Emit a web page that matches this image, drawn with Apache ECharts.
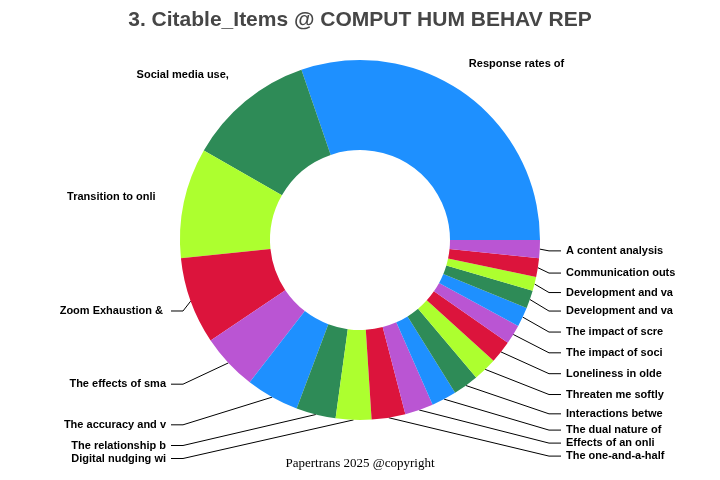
<!DOCTYPE html>
<html>
<head>
<meta charset="utf-8">
<script src="https://cdn.jsdelivr.net/npm/echarts@6/dist/echarts.min.js"></script>
<style>
  html, body { margin: 0; padding: 0; background: #fff; }
  #main { width: 720px; height: 480px; }
</style>
</head>
<body>
<div id="main"></div>
<script>
const titles = [
    'Response rates of ', 'Social media use, ', 'Transition to onli', 'Zoom Exhaustion & ',
    'The effects of sma', 'The accuracy and v', 'The relationship b', 'Digital nudging wi',
    'The one-and-a-half', 'Effects of an onli', 'The dual nature of', 'Interactions betwe',
    'Threaten me softly', 'Loneliness in olde', 'The impact of soci', 'The impact of scre',
    'Development and va', 'Development and va', 'Communication outs', 'A content analysis'
];
const citable = [
    109.0, 41.2, 35.6, 28.1,
    18.3, 17.2, 12.8, 11.5,
    10.9, 9.2, 8.1, 8.3,
    7.7, 7.3, 6.3, 6.3,
    5.8, 4.5, 6.1, 5.8
];
const palette = ['#1E90FF', '#2E8B57', '#ADFF2F', '#DC143C', '#BA55D3'];

var chart = echarts.init(document.getElementById('main'));

// line ends of the two label columns
var rightEnd = 561, leftEnd = 171, gap = 5, len2 = 12;
// labels of the three big slices carry no guide line and sit closer to the ring
var freeLabelShift = [[-33, -1], [26, 1], [18, 3]];

var option = {
    title: {
        text: '3. Citable_Items @ COMPUT HUM BEHAV REP',
        left: 'center',
        top: 5,
        textStyle: {
            fontFamily: 'Liberation Sans, Arial, sans-serif',
            fontSize: 21,
            fontWeight: 'bold',
            color: '#464646'
        }
    },
    graphic: [{
        type: 'text',
        left: 'center',
        top: 457,
        style: {
            text: 'Papertrans 2025 @copyright',
            fontFamily: 'Liberation Serif, Times New Roman, serif',
            fontSize: 13,
            fill: '#000'
        }
    }],
    series: [{
        name: 'Citable_Items',
        type: 'pie',
        top: 15,
        bottom: 15,
        center: ['50%', '50%'],
        radius: ['40%', '80%'],
        startAngle: 0,
        clockwise: false,
        label: {
            position: 'outside',
            color: '#000',
            fontFamily: 'Liberation Sans, Arial, sans-serif',
            fontSize: 11,
            fontWeight: 'bold'
        },
        labelLine: {
            length: 35,
            length2: len2,
            lineStyle: { color: '#000', width: 1 }
        },
        labelLayout: function (params) {
            var i = params.dataIndex;
            if (i < freeLabelShift.length) {
                return { dx: freeLabelShift[i][0], dy: freeLabelShift[i][1] };
            }
            if (!params.labelLinePoints) {
                return {};
            }
            var pts = params.labelLinePoints;
            var y = params.labelRect.y + params.labelRect.height / 2;
            if (pts[2][0] > chart.getWidth() / 2) {
                return {
                    x: rightEnd + gap,
                    align: 'left',
                    labelLinePoints: [pts[0], [rightEnd - len2, y], [rightEnd, y]]
                };
            }
            return {
                x: leftEnd - gap,
                align: 'right',
                labelLinePoints: [pts[0], [leftEnd + len2, y], [leftEnd, y]]
            };
        },
        data: titles.map(function (t, i) {
            return {
                name: t,
                value: citable[i],
                itemStyle: { color: palette[i % palette.length] },
                labelLine: { show: i >= freeLabelShift.length }
            };
        })
    }]
};
chart.setOption(option);
</script>
</body>
</html>
